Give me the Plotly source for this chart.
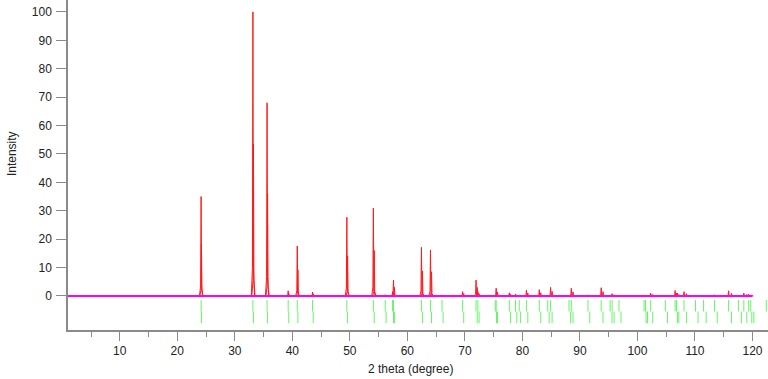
import plotly.graph_objects as go

# ---- data ----
# Bragg reflection positions (Ka1) and their Ka2 partners, degrees 2-theta
refl_ka1 = [24.14, 33.15, 35.61, 39.28, 40.86, 43.52, 49.48, 54.09, 56.15, 57.43,
            57.59, 62.45, 64.02, 66.03, 69.60, 71.94, 72.26, 75.28, 75.44, 77.73,
            78.80, 79.45, 80.70, 82.94, 84.40, 84.90, 88.10, 88.50, 91.40, 93.70,
            95.25, 95.60, 96.80, 101.15, 101.40, 102.30, 104.85, 106.55, 106.80, 108.10,
            110.10, 111.50, 113.40, 115.85, 117.55, 118.50, 119.35, 119.70, 122.40]
refl_ka2 = [24.20, 33.24, 35.70, 39.38, 40.97, 43.63, 49.61, 54.24, 56.30, 57.59,
            57.75, 62.62, 64.20, 66.21, 69.80, 72.14, 72.47, 75.50, 75.66, 77.95,
            79.03, 79.69, 80.94, 83.19, 84.66, 85.16, 88.39, 88.80, 91.71, 94.02,
            95.58, 95.94, 97.14, 101.50, 101.75, 102.66, 105.23, 106.95, 107.20, 108.52,
            110.54, 111.95, 113.88, 116.35, 118.07, 119.02, 119.88, 120.24, 122.95]

# Observed peaks (Ka1 component)
peak1_pos = [24.14, 33.15, 35.61, 39.28, 40.86, 43.52, 49.48, 54.09, 56.15, 57.43,
             57.59, 62.45, 64.02, 66.03, 69.60, 71.94, 72.26, 75.44, 77.73, 78.80,
             80.70, 82.94, 84.90, 88.50, 91.40, 93.70, 95.60, 102.30, 106.55, 106.80,
             108.10, 113.40, 115.85, 118.50, 119.35]
peak1_int = [35.0, 100.0, 68.0, 1.8, 17.6, 1.4, 27.7, 30.9, 0.4, 1.5,
             5.6, 17.1, 16.2, 0.3, 1.5, 5.6, 1.5, 2.7, 1.1, 0.6,
             2.0, 2.2, 3.0, 2.7, 0.3, 2.9, 0.8, 1.0, 1.9, 1.0,
             1.5, 0.4, 1.8, 1.0, 0.6]
# Ka2 component
peak2_pos = [24.20, 33.24, 35.70, 39.38, 40.97, 43.63, 49.61, 54.24, 56.30, 57.59,
             57.75, 62.62, 64.20, 66.21, 69.80, 72.14, 72.47, 75.66, 77.95, 79.03,
             80.94, 83.19, 85.16, 88.80, 91.71, 94.02, 95.94, 102.66, 106.95, 107.20,
             108.52, 113.88, 116.35, 119.02, 119.88]
peak2_int = [18.3, 53.5, 36.0, 0.9, 9.2, 0.7, 14.1, 16.0, 0.2, 0.8,
             3.0, 8.8, 8.5, 0.15, 0.8, 3.0, 0.8, 1.4, 0.6, 0.3,
             1.0, 1.1, 1.6, 1.4, 0.15, 1.5, 0.4, 0.5, 1.0, 0.5,
             0.8, 0.2, 0.9, 0.5, 0.3]

scan_range = [1.0, 120.0]
x_ticks = [10, 20, 30, 40, 50, 60, 70, 80, 90, 100, 110, 120]
y_ticks = [0, 10, 20, 30, 40, 50, 60, 70, 80, 90, 100]

# ---- styling parameters ----
half_w = 0.28                    # peak base half-width (style)
shape_dx = [-1.0, -0.3, 0.0, 0.3, 1.0]
shape_dy = [0.0, 0.1, 1.0, 0.1, 0.0]
tick_top, tick_mid, tick_bot = -1.4, -5.5, -9.6

px, py = [], []
for pos_list, int_list in ((peak1_pos, peak1_int), (peak2_pos, peak2_int)):
    for p, h in zip(pos_list, int_list):
        px += [p + d * half_w for d in shape_dx] + [None]
        py += [h * s for s in shape_dy] + [None]

gx, gy = [], []
for p1, p2 in zip(refl_ka1, refl_ka2):
    gx += [p1, p1, None, p2, p2, None]
    gy += [tick_top, tick_mid, None, tick_mid, tick_bot, None]

fig = go.Figure()
fig.add_trace(go.Scatter(x=px, y=py, mode="lines",
                         line=dict(color="#ff1a1a", width=1), hoverinfo="skip"))
fig.add_trace(go.Scatter(x=gx, y=gy, mode="lines",
                         line=dict(color="#66f566", width=1), hoverinfo="skip"))
fig.add_trace(go.Scatter(x=scan_range, y=[0, 0], mode="lines",
                         line=dict(color="#ff00ff", width=2), hoverinfo="skip"))

axis_col = "#8a8a8a"
font = dict(family="Arial, Liberation Sans, sans-serif", size=12, color="#222222")

fig.update_layout(
    width=768, height=379,
    margin=dict(l=68, r=0, t=0, b=49),
    paper_bgcolor="white", plot_bgcolor="white",
    showlegend=False,
    font=font,
    xaxis=dict(range=[1.0, 122.7], tickmode="array", tickvals=x_ticks,
               ticks="outside", ticklen=9, tickwidth=1, tickcolor=axis_col,
               showline=True, linecolor=axis_col, linewidth=1.5,
               showgrid=False, zeroline=False,
               minor=dict(dtick=5, tick0=0, ticks="outside", ticklen=5,
                          tickcolor=axis_col, showgrid=False),
               tickfont=font),
    yaxis=dict(range=[-12.0, 104.2], tickmode="array", tickvals=y_ticks,
               ticks="outside", ticklen=10, tickwidth=1, tickcolor=axis_col,
               showline=True, linecolor=axis_col, linewidth=1.5,
               showgrid=False, zeroline=False, tickfont=font,
               ticklabelstandoff=2),
    annotations=[
        dict(text="2 theta (degree)", xref="paper", yref="paper",
             x=0.489, y=0, yshift=-39, xanchor="center", yanchor="middle",
             showarrow=False, font=font),
        dict(text="Intensity", xref="paper", yref="paper",
             x=0, xshift=-56, y=0.533, xanchor="center", yanchor="middle",
             textangle=-90, showarrow=False, font=font),
    ],
)

fig.write_html("out.html", config={"displayModeBar": False},
               post_script="document.body.style.margin='0';document.body.style.overflow='hidden';")
